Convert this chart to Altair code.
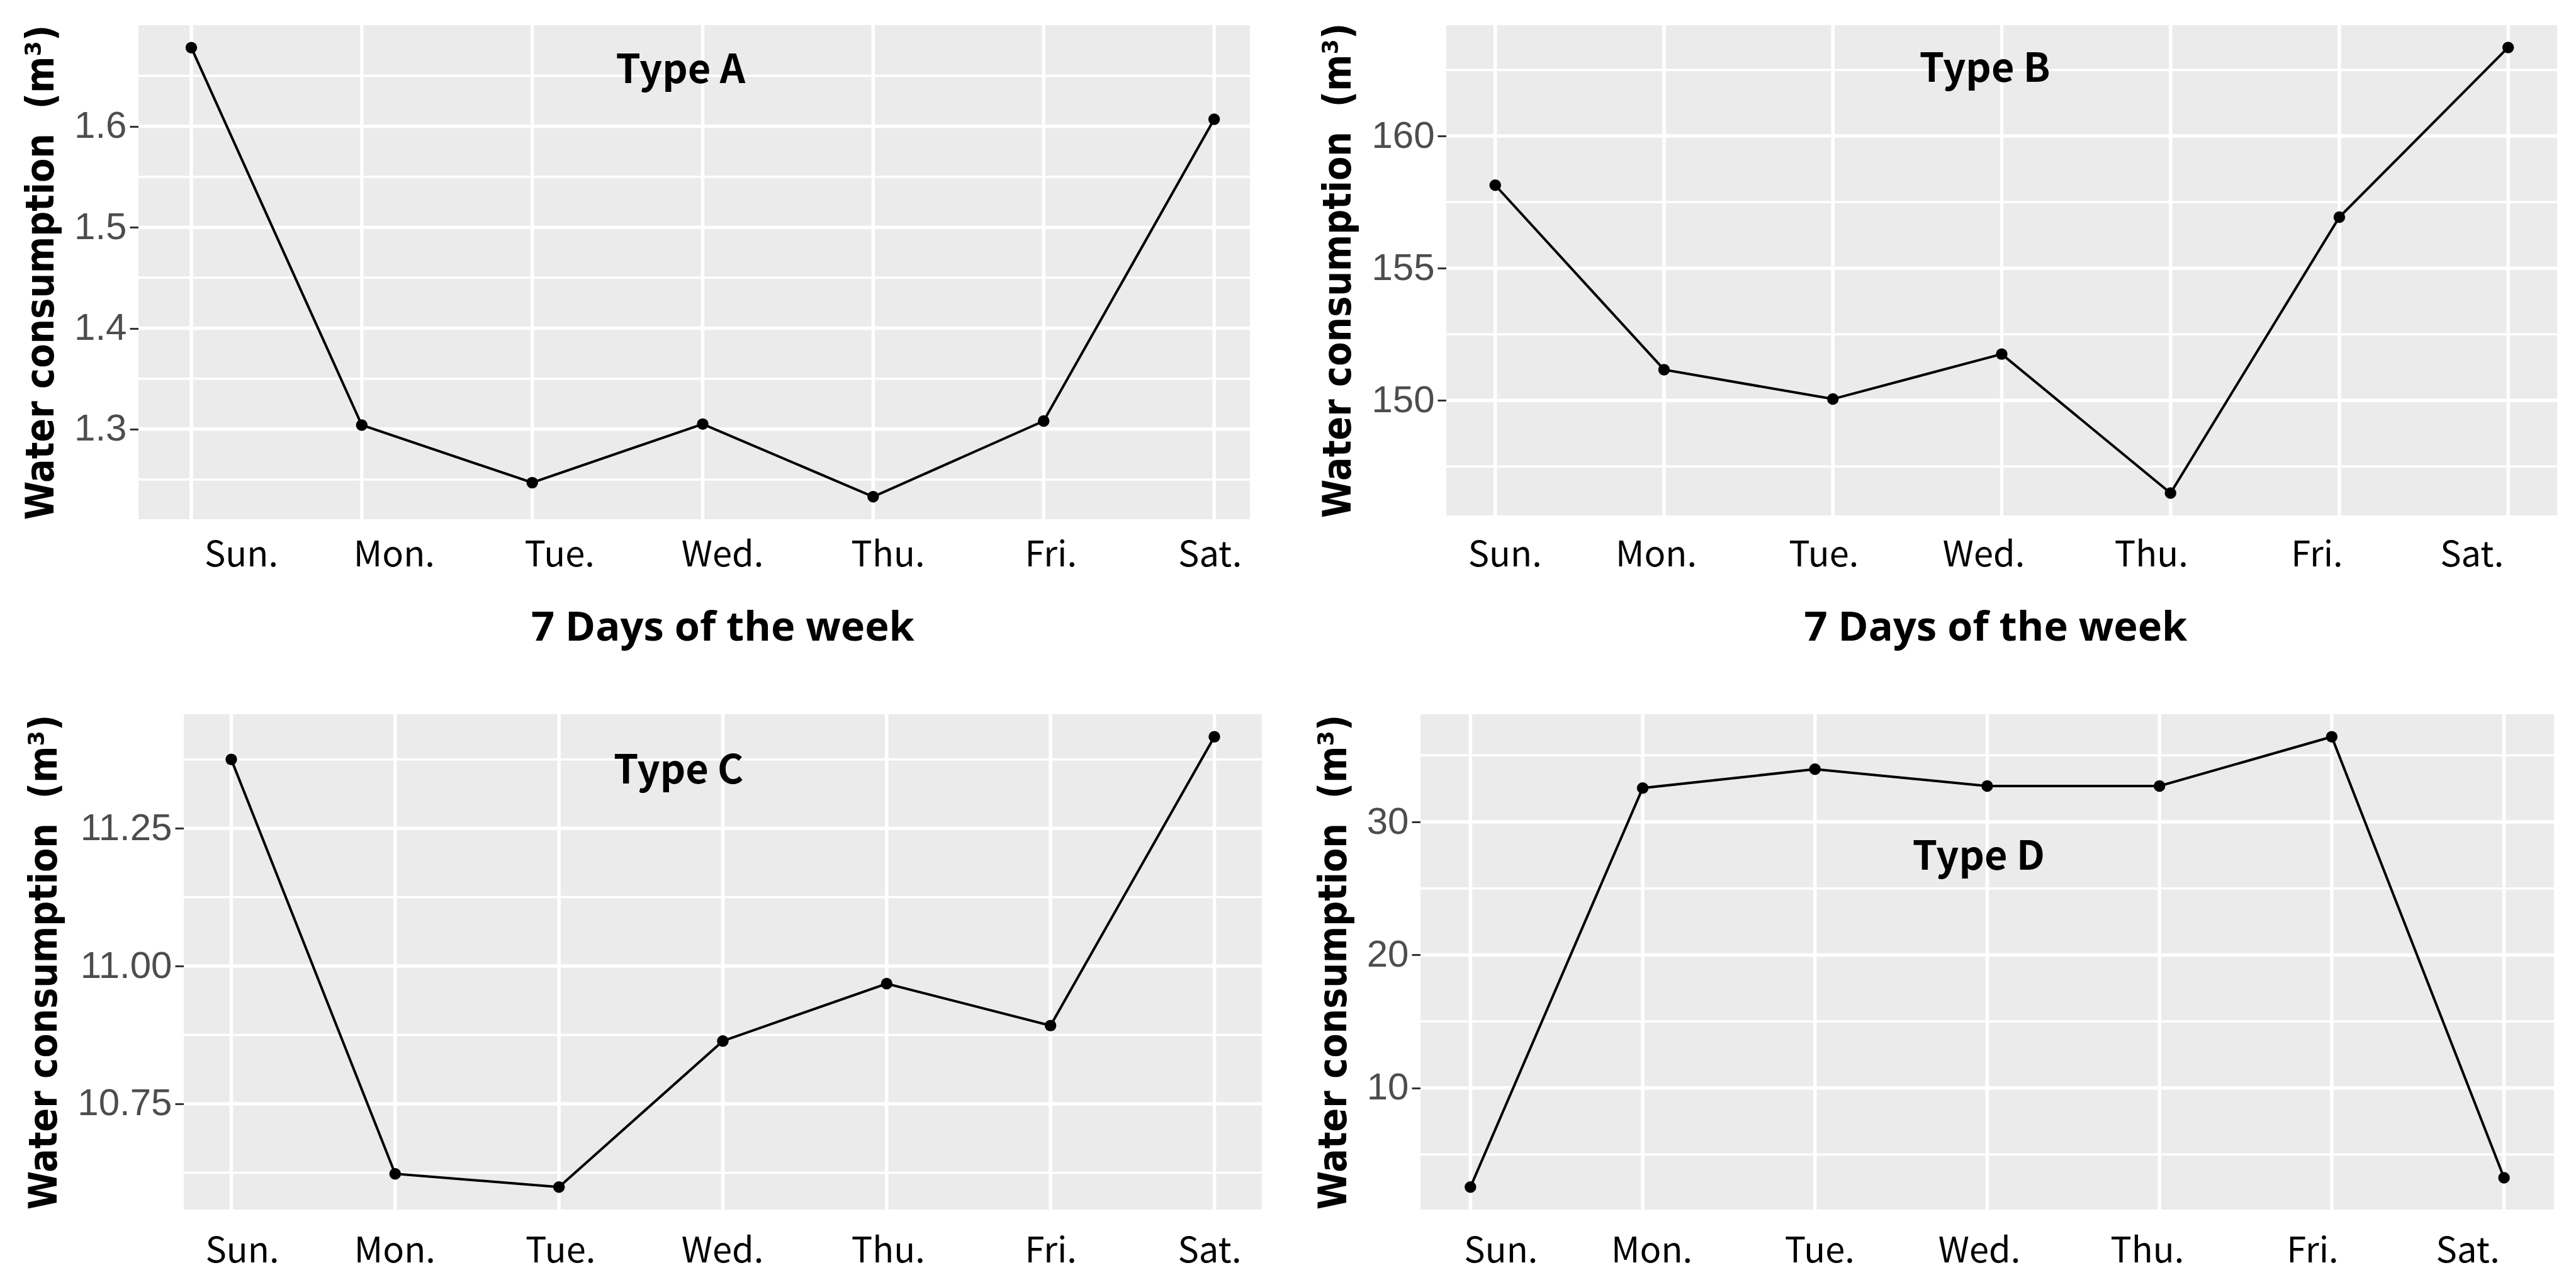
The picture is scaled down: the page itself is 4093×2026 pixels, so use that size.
import json
import altair as alt
import pandas as pd

# ---------------- data ----------------
days = ["Sun.", "Mon.", "Tue.", "Wed.", "Thu.", "Fri.", "Sat."]

type_a = [1.678, 1.304, 1.247, 1.305, 1.233, 1.308, 1.607]
type_b = [158.14, 151.16, 150.05, 151.75, 146.49, 156.93, 163.35]
type_c = [11.375, 10.623, 10.599, 10.864, 10.968, 10.892, 11.416]
type_d = [2.55, 32.55, 33.96, 32.70, 32.70, 36.40, 3.25]

panel_names = ["Type A", "Type B", "Type C", "Type D"]
name_x = [2.87, 2.90, 2.73, 2.95]
name_y = [1.655, 162.5, 11.353, 27.3]

major_a = [1.3, 1.4, 1.5, 1.6]
minor_a = [1.25, 1.35, 1.45, 1.55, 1.65]
major_b = [150, 155, 160]
minor_b = [147.5, 152.5, 157.5, 162.5]
major_c = [10.75, 11.0, 11.25]
minor_c = [10.625, 10.875, 11.125, 11.375]
major_d = [10, 20, 30]
minor_d = [5, 15, 25, 35]

y_title = "Water consumption\u00a0 (m³)"
x_title = "7 Days of the week"

# ---------------- styles ----------------
LABEL_FONT = "Noto Sans CJK KR"
XTITLE_FONT = "Open Sans"
NUM_FONT = "Liberation Sans"
YTITLE_FONT = "DejaVu Sans Condensed, DejaVu Sans"
GRID_BG = "#EBEBEB"
MAJOR_W = 5.5
MINOR_W = 3.5

day_expr = "[" + ",".join("'%s'" % d for d in days) + "][datum.value]"


def panel(values, name, nx, ny, majors, minors, fmt, gray_w, height,
          gray_x, margin, shifts, lab_pad, show_xtitle, title_shift=0):
    n = len(days)
    df = pd.DataFrame({"idx": list(range(n)), "value": values})
    tdf = pd.DataFrame({"idx": [nx], "value": [ny], "name": [name]})
    lo, hi = min(values), max(values)
    pad = 0.05 * (hi - lo)
    ydom = [lo - pad, hi + pad]
    is_major = "indexof(%s, datum.value) >= 0" % json.dumps(majors)

    # x scale: the gray panel occupies gray_x, a blank margin sits at its left
    per_px = (gray_x[1] - gray_x[0]) / gray_w
    xdom = [gray_x[0] - margin * per_px, gray_x[1]]

    xkw = {}
    if show_xtitle:
        xkw = dict(title=x_title, titleFont=XTITLE_FONT, titleFontSize=65,
                   titleFontWeight="bold", titleColor="black", titlePadding=56,
                   titleX=margin + gray_w / 2 + title_shift)
    else:
        xkw = dict(title=None)

    x_axis = alt.Axis(
        values=list(range(n)),
        labelExpr=day_expr,
        grid=False, ticks=False, tickSize=0, domain=False,
        labelFont=LABEL_FONT, labelFontSize=56, labelColor="black",
        labelPadding=lab_pad, labelFlush=False, labelOverlap=False,
        labelOffset={"condition": [{"test": "datum.value === %d" % i, "value": s}
                                   for i, s in enumerate(shifts)], "value": 0},
        **xkw,
    )
    y_axis = alt.Axis(
        values=sorted(majors + minors),
        labelExpr="%s ? format(datum.value, '%s') : ''" % (is_major, fmt),
        grid=False,
        tickOpacity={"condition": {"test": is_major, "value": 1}, "value": 0},
        tickSize=14, tickWidth=3, tickColor="#333333", domain=False,
        labelFont=NUM_FONT, labelFontSize=60, labelColor="#4D4D4D",
        labelPadding=5, labelOverlap=False, labelFlush=False,
        title=y_title, titleFont=YTITLE_FONT, titleFontSize=62,
        titleFontWeight="bold", titleColor="black", titlePadding=20,
        offset=-margin,
    )
    xs = alt.Scale(domain=xdom, nice=False, zero=False)
    ys = alt.Scale(domain=ydom, nice=False, zero=False)
    xenc = alt.X("idx:Q", scale=xs, axis=x_axis)
    yenc = alt.Y("value:Q", scale=ys, axis=y_axis)

    bg_df = pd.DataFrame({"idx": [gray_x[0]], "idx2": [gray_x[1]],
                          "value": [ydom[0]], "value2": [ydom[1]]})
    bg = alt.Chart(bg_df).mark_rect(color=GRID_BG).encode(
        x=xenc, x2="idx2:Q", y=yenc, y2="value2:Q")

    def hrules(vals, w):
        d = pd.DataFrame({"idx": [gray_x[0]] * len(vals),
                          "idx2": [gray_x[1]] * len(vals), "value": vals})
        return alt.Chart(d).mark_rule(color="white", strokeWidth=w).encode(
            x=xenc, x2="idx2:Q", y=yenc)

    vd = pd.DataFrame({"idx": list(range(n)), "value": [ydom[0]] * n,
                       "value2": [ydom[1]] * n})
    vrules = alt.Chart(vd).mark_rule(color="white", strokeWidth=MAJOR_W).encode(
        x=xenc, y=yenc, y2="value2:Q")

    base = alt.Chart(df).encode(x=xenc, y=yenc)
    line = base.mark_line(color="black", strokeWidth=4)
    pts = base.mark_point(filled=True, size=340, color="black", opacity=1)
    lab = alt.Chart(tdf).mark_text(
        font=LABEL_FONT, fontSize=63, fontWeight="bold", color="black",
        baseline="middle", align="center"
    ).encode(x=xenc, y=yenc, text="name:N")
    return alt.layer(bg, hrules(minors, MINOR_W), hrules(majors, MAJOR_W), vrules,
                     line, pts, lab).properties(width=gray_w + margin, height=height)


pa = panel(type_a, panel_names[0], name_x[0], name_y[0], major_a, minor_a, ".1f",
           1766, 785, [-0.31, 6.21], 0, [79, 51, 43, 31, 23, 11, -7], 30, True, 45)
pb = panel(type_b, panel_names[1], name_x[1], name_y[1], major_b, minor_b, "d",
           1765, 779, [-0.29, 6.29], 0, [15, -13, -15, -29, -31, -36, -58], 36, True, -10)
pc = panel(type_c, panel_names[2], name_x[2], name_y[2], major_c, minor_c, ".2f",
           1713, 787, [-0.29, 6.29], 72, [17, -1, 2, -1, 2, 0, -8], 39, False)
pdd = panel(type_d, panel_names[3], name_x[3], name_y[3], major_d, minor_d, "d",
            1801, 787, [-0.29, 6.29], 0, [48, 14, 7, -13, -20, -31, -58], 39, False)

row1 = alt.hconcat(pa, pb, spacing=106)
row2 = alt.hconcat(pc, pdd, spacing=80)

chart = alt.vconcat(row1, row2, spacing=102).configure_view(
    stroke=None
).properties(
    padding={"left": 26, "top": 28, "right": 5, "bottom": 5},
    background="white",
)

chart.save("out.html", embed_options={"renderer": "svg", "actions": False})
